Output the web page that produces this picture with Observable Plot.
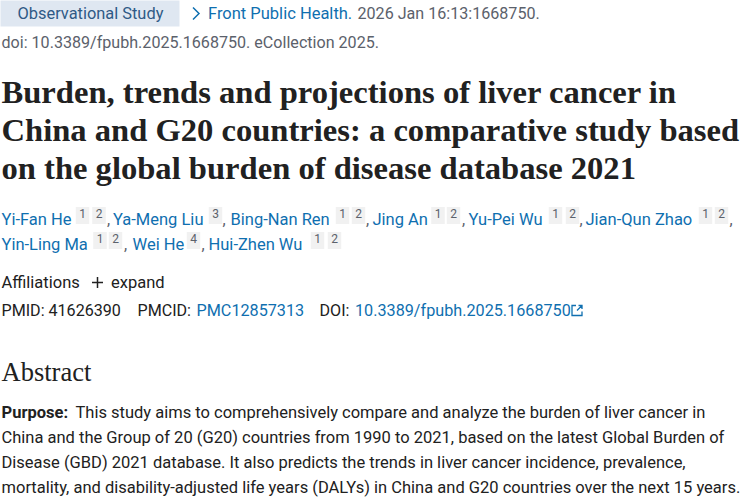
<!DOCTYPE html>
<html>
<head>
<meta charset="utf-8">
<script src="https://cdn.jsdelivr.net/npm/d3@7"></script>
<script src="https://cdn.jsdelivr.net/npm/@observablehq/plot@0.6"></script>
<style>html,body{margin:0;padding:0;background:#fff}svg{display:block}</style>
</head>
<body>
<script>
// Text content
const studyType = "Observational Study";
const journal = "Front Public Health.";
const citation = "2026 Jan 16:13:1668750.";
const doiLine = "doi: 10.3389/fpubh.2025.1668750. eCollection 2025.";
const titleLines = [
  "Burden, trends and projections of liver cancer in",
  "China and G20 countries: a comparative study based",
  "on the global burden of disease database 2021"
];
const authors = ["Yi-Fan He","Ya-Meng Liu","Bing-Nan Ren","Jing An","Yu-Pei Wu","Jian-Qun Zhao","Yin-Ling Ma","Wei He","Hui-Zhen Wu"];
const affiliations = [[1,2],[3],[1,2],[1,2],[1,2],[1,2],[1,2],[4],[1,2]];
const idLabels = ["PMID: 41626390","PMCID:","DOI:"];
const idLinks = ["PMC12857313","10.3389/fpubh.2025.1668750"];
const abstractHeading = "Abstract";
const purposeLabel = "Purpose:";
const abstractLines = [
  "This study aims to comprehensively compare and analyze the burden of liver cancer in",
  "China and the Group of 20 (G20) countries from 1990 to 2021, based on the latest Global Burden of",
  "Disease (GBD) 2021 database. It also predicts the trends in liver cancer incidence, prevalence,",
  "mortality, and disability-adjusted life years (DALYs) in China and G20 countries over the next 15 years."
];

// Layout lives in the scale configuration only
const rowNames = ["meta1","meta2","title1","title2","title3","authors1","authors2","affil","ids","abstract","abs1","abs2","abs3","abs4"];
const rowRange = [13,42,92,130,168,219,244,282,310,372,412,437,462,487];
const authorX = [1,112.5,230,372,468,585,1,132,208];
const chipX = [[82,98.5],[215],[342,358],[437.5,453],[555,572],[705,721],[99.5,115],[193],[317,334]];
const commaX = [106.5,222,365.4,461.5,579,729,123.5,201,null];

const columnRange = [];
const texts = [], chips = [];
const place = (px) => { columnRange.push(px); return columnRange.length - 1; };
const add = (row, px, text, kind) => texts.push({row, col: place(px), text, kind});

add("meta1", 17, studyType, "badge");
add("meta1", 207.5, journal, "link");
add("meta1", 357, citation, "muted");
add("meta2", 1, doiLine, "muted");
titleLines.forEach((t,i) => add("title"+(i+1), 1, t, "title"));
authors.forEach((a,i) => {
  const row = i < 6 ? "authors1" : "authors2";
  add(row, authorX[i], a, "link");
  affiliations[i].forEach((n,j) => chips.push({row, col: place(chipX[i][j]), text: String(n)}));
  if (commaX[i] !== null) add(row, commaX[i], ",", "muted");
});
add("affil", 1, "Affiliations", "plain");
add("affil", 110.5, "expand", "plain");
add("ids", 1, idLabels[0], "idPlain");
add("ids", 137, idLabels[1], "idPlain");
add("ids", 196, idLinks[0], "idLink");
add("ids", 319, idLabels[2], "idPlain");
add("ids", 354.5, idLinks[1], "idLink");
add("abstract", 1, abstractHeading, "heading");
add("abs1", 1, purposeLabel, "strong");
add("abs1", 75, abstractLines[0], "plain");
add("abs2", 1, abstractLines[1], "plain");
add("abs3", 1, abstractLines[2], "plain");
add("abs4", 1, abstractLines[3], "plain");

const badgeAt = [{row:"meta1", col: place(89.5)}];
const chevronAt = [{row:"meta1", col: place(195.5)}];
const plusAt = [{row:"affil", col: place(97)}];
const iconAt = [{row:"ids", col: place(576.5)}];

const rowIndex = d => rowNames.indexOf(d.row);
const colIndex = d => d.col;

const sans = "Roboto, 'Noto Sans', sans-serif";
const serif = "'Liberation Serif', serif";
const styles = {
  badge:  {fill:"#2f5a86", fontSize:16.4, fontFamily:sans},
  link:   {fill:"#0f6fb0", fontSize:16.5, fontFamily:sans},
  idLink: {fill:"#0f6fb0", fontSize:16.2, fontFamily:sans},
  muted:  {fill:"#5b616b", fontSize:16.1, fontFamily:sans},
  plain:  {fill:"#212121", fontSize:16.5, fontFamily:sans},
  idPlain:{fill:"#212121", fontSize:16.1, fontFamily:sans},
  strong: {fill:"#212121", fontSize:16.5, fontFamily:sans, fontWeight:700},
  title:  {fill:"#212121", fontSize:32.6, fontFamily:serif, fontWeight:700},
  heading:{fill:"#212121", fontSize:26.5, fontFamily:serif}
};

const textMarks = Object.entries(styles).map(([kind, s]) =>
  Plot.text(texts.filter(d => d.kind === kind), {x: colIndex, y: rowIndex, text: "text", textAnchor: "start", ...s})
);

const rectSymbol = (w,h) => ({draw(c){ c.rect(-w/2,-h/2,w,h); }});
const chevronSymbol = {draw(c){ c.moveTo(-3,-6); c.lineTo(3,0); c.lineTo(-3,6); }};
const plusSymbol = {draw(c){ c.moveTo(-5.5,0); c.lineTo(5.5,0); c.moveTo(0,-5.5); c.lineTo(0,5.5); }};
const iconSymbol = {draw(c){
  c.moveTo(-1,-5); c.lineTo(-5,-5); c.lineTo(-5,5); c.lineTo(5,5); c.lineTo(5,1);
  c.moveTo(0,0); c.lineTo(5,-5); c.moveTo(1.5,-5); c.lineTo(5,-5); c.lineTo(5,-1.5);
}};

const chart = Plot.plot({
  width: 750, height: 500,
  margin: 0,
  style: {background:"#fff"},
  x: {axis:null, domain: columnRange.map((_,i)=>i), range: columnRange, type:"linear"},
  y: {axis:null, domain: rowNames.map((_,i)=>i), range: rowRange, type:"linear"},
  marks: [
    Plot.dot(badgeAt, {x: colIndex, y: rowIndex, symbol: rectSymbol(179,26), fill:"#dfe7f1", r:1}),
    Plot.dot(chips, {x: colIndex, y: rowIndex, symbol: rectSymbol(13.5,17), fill:"#f1f1f1", r:1, dy:-4}),
    Plot.text(chips, {x: colIndex, y: rowIndex, text:"text", fill:"#5b616b", fontSize:12, fontFamily:sans, dy:-5}),
    Plot.dot(chevronAt, {x: colIndex, y: rowIndex, symbol: chevronSymbol, stroke:"#0f6fb0", fill:"none", strokeWidth:1.5, r:1}),
    Plot.dot(plusAt, {x: colIndex, y: rowIndex, symbol: plusSymbol, stroke:"#212121", fill:"none", strokeWidth:1.5, r:1}),
    Plot.dot(iconAt, {x: colIndex, y: rowIndex, symbol: iconSymbol, stroke:"#0f6fb0", fill:"none", strokeWidth:1.3, r:1}),
    ...textMarks
  ]
});
document.body.appendChild(chart);
</script>
</body>
</html>
